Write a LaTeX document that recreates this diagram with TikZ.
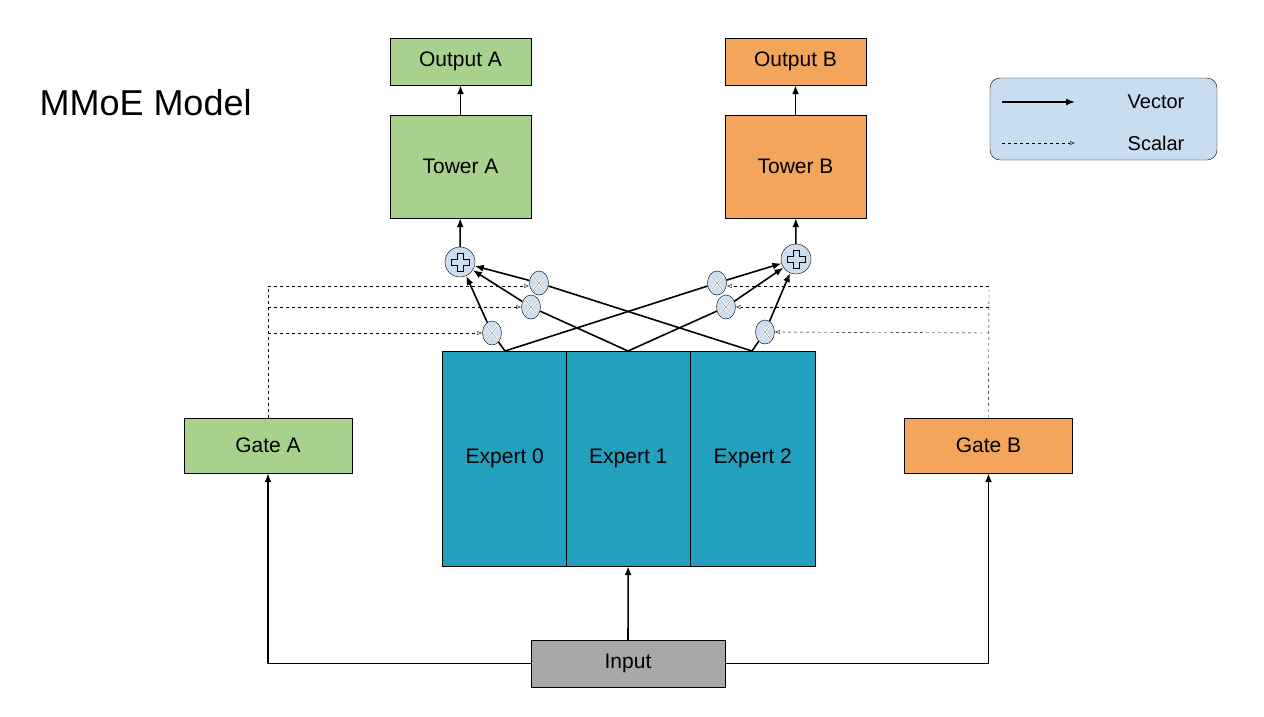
\documentclass[tikz,border=0pt]{standalone}
\usepackage{fontspec}
\setmainfont{Liberation Sans}
\usetikzlibrary{shapes.geometric,arrows.meta}
\definecolor{gA}{RGB}{169,209,142}
\definecolor{oB}{RGB}{243,165,92}
\definecolor{ex}{RGB}{35,160,190}
\definecolor{inp}{RGB}{168,168,168}
\definecolor{cir}{RGB}{205,222,240}
\definecolor{leg}{RGB}{200,222,240}
\begin{document}
\begin{tikzpicture}[x=1pt,y=-1pt,
 box/.style={draw,thin,minimum width=#1,font=\fontsize{21}{24}\selectfont,inner sep=0pt},
 arr/.style={-{Latex[length=9pt,width=7pt]},line width=1.6pt},
 sca/.style={dashed,thin,-{Latex[open,length=5pt,width=4pt]}},
 mul/.style={ellipse,draw,fill=cir,minimum width=19pt,minimum height=24pt,inner sep=0pt,
   path picture={\draw[line width=2.2pt,white] (path picture bounding box.center)++(-5pt,-6pt)--++(10pt,12pt) (path picture bounding box.center)++(5pt,-6pt)--++(-10pt,12pt);
   \draw[gray,thin] (path picture bounding box.center)++(-5pt,-6pt)--++(10pt,12pt) (path picture bounding box.center)++(5pt,-6pt)--++(-10pt,12pt);}},
 add/.style={ellipse,draw,fill=cir,minimum width=30pt,minimum height=30pt,inner sep=0pt,
   path picture={\draw[thick,fill=cir] (path picture bounding box.center)++(-3pt,-9pt) -- ++(6pt,0) -- ++(0,6pt) -- ++(6pt,0) -- ++(0,6pt) -- ++(-6pt,0) -- ++(0,6pt) -- ++(-6pt,0) -- ++(0,-6pt) -- ++(-6pt,0) -- ++(0,-6pt) -- ++(6pt,0) -- cycle;}}]
\useasboundingbox[fill=white] (0,0) rectangle (1264,716);
\node[anchor=west,font=\fontsize{36}{40}\selectfont] (title) at (36,103) {MMoE Model};
% legend
\node[draw,rounded corners=10pt,fill=leg,minimum width=227pt,minimum height=82pt] (leg) at (1103.5,119) {};
\coordinate (l1a) at (1002,102); \coordinate (l1b) at (1075,102);
\coordinate (l2a) at (1002,143); \coordinate (l2b) at (1075,143);
\draw[arr] (l1a) -- (l1b);
\draw[sca] (l2a) -- (l2b);
\node[font=\fontsize{20}{24}\selectfont] (lv) at (1156,102) {Vector};
\node[font=\fontsize{20}{24}\selectfont] (ls) at (1156,143) {Scalar};
% boxes
\node[box=141pt,minimum height=47pt,fill=gA] (oa) at (460.5,61.5) {Output A};
\node[box=141pt,minimum height=103pt,fill=gA] (ta) at (460.5,166.5) {Tower A};
\node[box=141pt,minimum height=47pt,fill=oB] (ob) at (795.5,61.5) {Output B};
\node[box=141pt,minimum height=103pt,fill=oB] (tb) at (795.5,166.5) {Tower B};
\node[box=168pt,minimum height=55pt,fill=gA] (ga) at (268,445.5) {Gate A};
\node[box=168pt,minimum height=55pt,fill=oB] (gb) at (988.5,445.5) {Gate B};
\node[box=194pt,minimum height=47pt,fill=inp] (in) at (628,663.5) {Input};
\node[box=124.5pt,minimum height=215pt,fill=ex] (e0) at (504.75,458.5) {Expert 0};
\node[box=124.5pt,minimum height=215pt,fill=ex] (e1) at (628.25,458.5) {Expert 1};
\node[box=124.5pt,minimum height=215pt,fill=ex] (e2) at (752.75,458.5) {Expert 2};
\draw[arr] (ta) -- (oa);
\draw[arr] (tb) -- (ob);
\draw[arr] (in) -- (e1);
\draw[arr] (in.west) -| (ga.south);
\draw[arr] (in.east) -| (gb.south);
% circles
\node[add] (pa) at (460,262) {};
\node[add] (pb) at (796,259) {};
\node[mul] (ma2) at (539,283) {};
\node[mul] (ma1) at (531,307) {};
\node[mul] (ma0) at (492,333) {};
\node[mul] (mb0) at (717,283) {};
\node[mul] (mb1) at (726,307) {};
\node[mul] (mb2) at (765,332) {};
\draw[arr] (pa) -- (ta);
\draw[arr] (pb) -- (tb);
\coordinate (t0) at (505,351); \coordinate (t1) at (628,351); \coordinate (t2) at (752,351);
\foreach \t/\m/\p in {t2/ma2/pa,t1/ma1/pa,t0/ma0/pa,t0/mb0/pb,t1/mb1/pb,t2/mb2/pb}{
  \draw[line width=1.6pt] (\t) -- (\m);
  \draw[arr] (\m) -- (\p);
}
% gates dashed
\coordinate (ga0) at (268,286); \coordinate (ga1) at (268,307); \coordinate (ga2) at (268,333);
\coordinate (gb0) at (989,286); \coordinate (gb1) at (989,307); \coordinate (gb2) at (989,333);
\draw[dashed,thin] (ga.north) -- (ga0);
\draw[dashed,thin] (gb.north) -- (gb0);
\draw[sca] (ga0) -- (ma2.west |- ga0);
\draw[sca] (ga1) -- (ma1.west);
\draw[sca] (ga2) -- (ma0.west);
\draw[sca] (gb0) -- (mb0.east |- gb0);
\draw[sca] (gb1) -- (mb1.east);
\draw[sca] (gb2) -- (mb2.east);
\end{tikzpicture}
\end{document}
